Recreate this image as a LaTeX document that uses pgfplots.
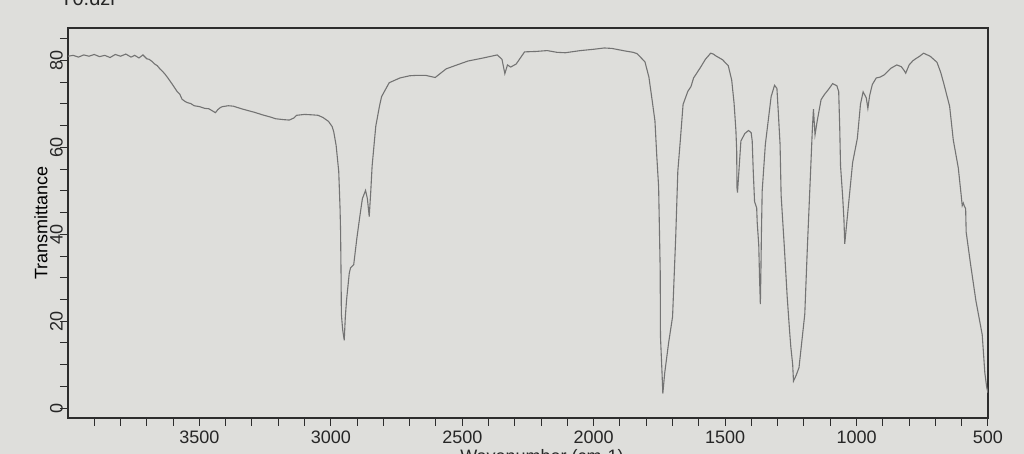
\documentclass[border=0pt]{standalone}
\usepackage{fontspec}
\setmainfont{Liberation Sans}
\usepackage{pgfplots}
\pgfplotsset{compat=1.18}
\definecolor{paper}{RGB}{222,222,219}
\definecolor{trace}{RGB}{115,115,115}
\definecolor{frame}{RGB}{45,45,45}
\pgfplotstableread{
x y
4000 81.0
3980 81.2
3960 80.8
3940 81.3
3920 81.0
3900 81.4
3880 80.9
3860 81.2
3840 80.7
3820 81.4
3800 81.0
3780 81.5
3760 80.8
3746 81.2
3730 80.6
3715 81.3
3700 80.4
3692 80.3
3680 79.8
3670 79.2
3660 78.8
3649 78.0
3640 77.5
3630 76.8
3620 76.0
3605 74.7
3595 73.8
3585 72.9
3575 72.3
3566 71.1
3555 70.6
3545 70.3
3533 70.1
3520 69.6
3500 69.4
3480 69.0
3464 68.9
3450 68.4
3439 68.0
3430 68.7
3420 69.2
3412 69.4
3390 69.6
3371 69.5
3340 68.9
3310 68.4
3291 68.1
3260 67.5
3230 67.0
3210 66.6
3180 66.4
3158 66.3
3140 66.8
3130 67.4
3100 67.6
3070 67.5
3049 67.4
3030 66.9
3009 66.0
2995 64.8
2989 63.6
2980 60.5
2975 57.5
2970 54.5
2965 46.0
2963 40.8
2961 30.0
2960 21.6
2955 18.0
2949 15.6
2945 20.9
2940 25.0
2930 31.0
2925 32.3
2913 33.0
2901 39.1
2890 44.0
2880 48.2
2868 50.1
2861 48.2
2854 44.1
2848 50.0
2843 55.7
2835 61.0
2829 64.9
2815 69.5
2807 71.7
2778 74.9
2737 76.0
2700 76.5
2672 76.6
2640 76.6
2603 76.1
2580 77.2
2561 78.1
2520 79.0
2478 79.9
2420 80.6
2367 81.3
2349 80.3
2338 77.0
2328 79.0
2316 78.5
2295 79.2
2263 82.0
2220 82.1
2177 82.3
2140 81.9
2108 81.8
2050 82.3
2000 82.6
1960 82.9
1931 82.8
1880 82.2
1850 81.9
1835 81.6
1805 79.7
1790 76.2
1778 71.0
1767 66.1
1760 58.0
1753 50.9
1747 31.6
1746 16.5
1740 8.0
1737 3.3
1730 8.0
1715 15.0
1700 21.0
1688 39.4
1680 54.5
1670 62.0
1660 69.9
1642 72.9
1630 74.0
1620 76.0
1595 78.3
1575 80.3
1555 81.7
1545 81.5
1536 81.1
1510 80.2
1488 78.8
1475 75.5
1466 70.2
1459 63.9
1456 59.2
1455 50.8
1453 49.6
1440 61.5
1425 63.2
1411 63.9
1401 63.4
1397 61.5
1393 54.5
1388 47.5
1380 46.1
1378 42.8
1372 37.4
1369 29.8
1366 23.9
1364 31.0
1362 40.0
1359 50.0
1347 60.7
1325 71.7
1312 74.3
1303 73.6
1298 68.4
1291 60.7
1287 49.0
1275 37.3
1264 25.7
1255 17.9
1250 14.0
1243 10.0
1240 6.2
1230 7.5
1219 9.3
1197 21.6
1187 37.2
1176 52.9
1168 64.5
1164 68.8
1158 62.9
1150 66.0
1135 71.0
1122 72.2
1105 73.5
1091 74.7
1075 74.2
1068 72.9
1064 64.5
1061 55.8
1053 48.8
1048 43.4
1045 37.8
1030 47.2
1015 56.5
997 62.1
985 70.0
975 72.8
963 71.4
957 69.0
950 72.0
940 74.5
925 76.0
910 76.2
895 76.7
870 78.2
847 79.0
830 78.6
820 77.8
813 77.1
800 79.0
785 80.0
773 80.5
760 81.0
745 81.7
720 81.0
694 79.6
680 77.3
669 74.9
646 69.5
632 61.7
613 55.3
602 49.0
598 46.6
594 47.2
590 46.5
585 45.9
583 40.5
567 33.4
546 24.7
522 16.9
512 8.1
505 4.8
500 3.5
}\spectrum
\begin{document}
\begin{tikzpicture}
\fill[paper] (-34pt,-18pt) rectangle (478pt,209pt);
\begin{axis}[
  at={(0,0)}, anchor=south west,
  scale only axis, width=460pt, height=195pt,
  x dir=reverse,
  xmin=500, xmax=4000, ymin=-2.3, ymax=87.5,
  axis line style={frame, line width=0.8pt},
  tick pos=left, tick align=outside,
  major tick length=4pt, minor tick length=4pt,
  every tick/.style={frame, line width=0.5pt},
  xtick={500,1000,1500,2000,2500,3000,3500},
  minor xtick={600,700,...,3900},
  ytick={0,20,40,60,80},
  minor ytick={5,10,...,85},
  tick label style={font=\fontsize{9}{10}\selectfont, text=black!85},
  /pgf/number format/assume math mode=true,
  /pgf/number format/1000 sep={},
  yticklabel style={rotate=90, anchor=south, yshift=-5pt},
  xticklabel style={yshift=1pt},
  ylabel={Transmittance},
  ylabel style={at={(axis description cs:0,0.5)}, anchor=center, yshift=13.5pt, font=\fontsize{9}{10}\selectfont},
  clip=true,
]
\addplot[trace, line width=0.55pt] table[x=x, y=y] {\spectrum};
\end{axis}
\node[anchor=base west, inner sep=0pt, font=\fontsize{10}{12}\selectfont, text=black!85] at (-4pt,206pt) {T0.dzr};
\node[anchor=north, inner sep=0pt, font=\fontsize{9}{10}\selectfont, text=black!85] at (237pt,-15.3pt) {Wavenumber (cm-1)};
\pgfresetboundingbox
\useasboundingbox (-34pt,-18pt) rectangle (478pt,209pt);
\end{tikzpicture}
\end{document}
